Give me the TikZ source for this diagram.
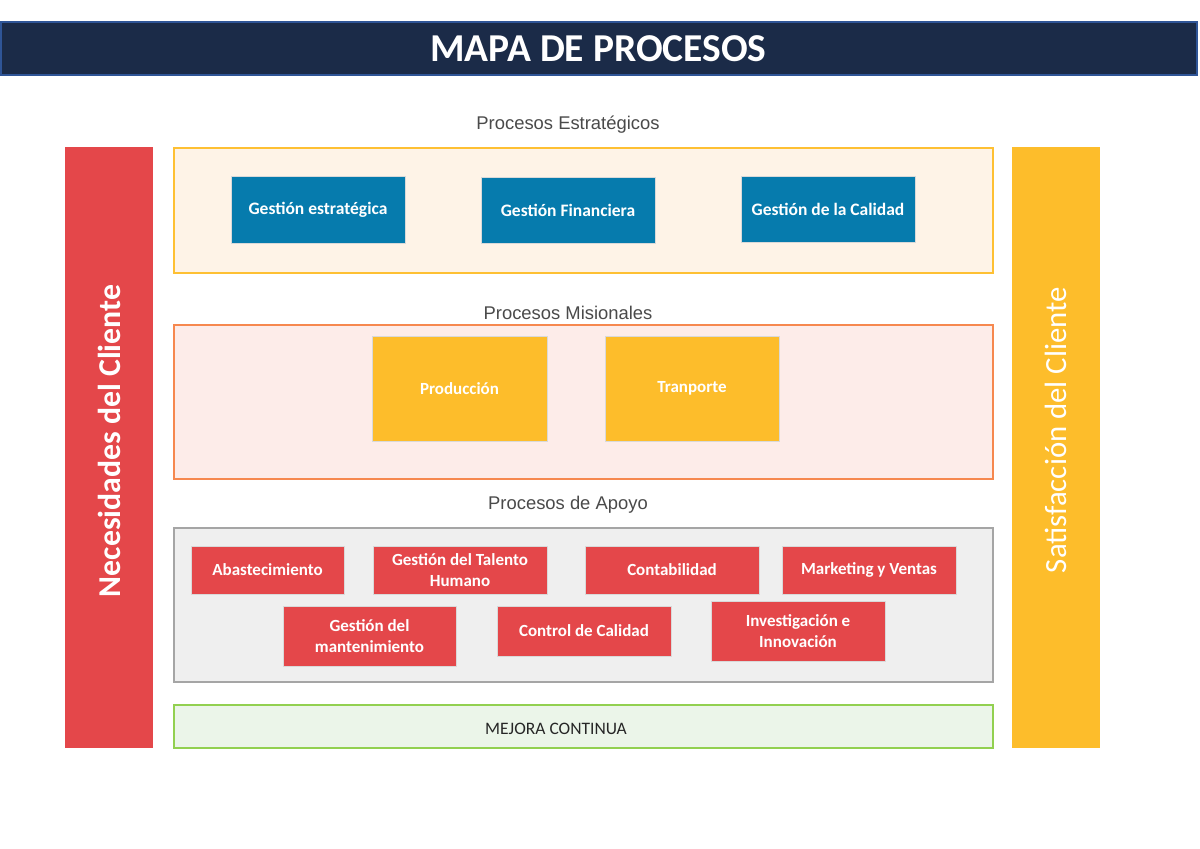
\documentclass[tikz,border=0pt]{standalone}
\usepackage{fontspec}
\setmainfont{Carlito}
\newfontfamily\arialf{Liberation Sans}
\definecolor{navy}{HTML}{1B2B48}
\definecolor{navyedge}{HTML}{2F5597}
\definecolor{bluebox}{HTML}{067BAD}
\definecolor{yelbox}{HTML}{FDBD2B}
\definecolor{redbox}{HTML}{E4474A}
\definecolor{stratfill}{HTML}{FEF3E7}
\definecolor{stratedge}{HTML}{FEC033}
\definecolor{misfill}{HTML}{FDECE9}
\definecolor{misedge}{HTML}{F6884F}
\definecolor{apofill}{HTML}{EFEFEF}
\definecolor{apoedge}{HTML}{A5A5A5}
\definecolor{mejfill}{HTML}{EBF5E9}
\definecolor{mejedge}{HTML}{92D050}
\definecolor{labelgray}{HTML}{4A4A4A}
\tikzset{
  container/.style={rectangle, line width=2pt, inner sep=0pt},
  procbox/.style={rectangle, draw=white!85!black, line width=0.5pt, text=white, align=center, inner sep=0pt, font=\bfseries\fontsize{17}{21}\selectfont},
  bluestyle/.style={procbox, fill=bluebox, font=\bfseries\fontsize{17.5}{21}\selectfont},
  yelstyle/.style={procbox, fill=yelbox},
  redstyle/.style={procbox, fill=redbox},
  grouplabel/.style={text=labelgray, font=\arialf\fontsize{18.4}{20}\selectfont},
  sidebar/.style={rectangle, inner sep=0pt, minimum width=88pt, minimum height=601pt},
}
\begin{document}
\begin{tikzpicture}[x=1pt,y=-1pt]
\useasboundingbox (0,0) rectangle (1200,849);
\fill[white] (0,0) rectangle (1200,849);
% title
\node[rectangle, fill=navy, draw=navyedge, line width=2pt, minimum width=1196pt, minimum height=53pt, inner sep=0pt, text=white, font=\bfseries\fontsize{39.5}{42}\selectfont] (title) at (598.5,48.5) {MAPA DE PROCESOS};
% side bars
\node[sidebar, fill=redbox] (left) at (109,447.5) {};
\node[rotate=90, text=white, font=\bfseries\fontsize{31.8}{34}\selectfont] (lefttext) at (109,441) {Necesidades del Cliente};
\node[sidebar, fill=yelbox] (right) at (1056,447.5) {};
\node[rotate=90, text=white, font=\fontsize{30.8}{33}\selectfont] (righttext) at (1056,430) {Satisfacción del Cliente};
% containers
\node[container, fill=stratfill, draw=stratedge, minimum width=819pt, minimum height=125pt] (strat) at (583.5,210.5) {};
\node[container, fill=misfill, draw=misedge, minimum width=819pt, minimum height=154pt] (mis) at (583.5,402) {};
\node[container, fill=apofill, draw=apoedge, minimum width=819pt, minimum height=154pt] (apo) at (583.5,605) {};
\node[container, fill=mejfill, draw=mejedge, minimum width=819pt, minimum height=43pt] (mej) at (583.5,726.5) {};
\node[text=black!85, font=\fontsize{17.5}{19}\selectfont] (mejtext) at (556,729) {MEJORA CONTINUA};
% group labels
\node[grouplabel] (lstrat) at (568,125) {Procesos Estratégicos};
\node[grouplabel] (lmis) at (568,313) {Procesos Misionales};
\node[grouplabel] (lapo) at (568,505) {Procesos de Apoyo};
% strategic
\node[bluestyle, minimum width=174pt, minimum height=67pt] (b1) at (318,209.5) {Gestión estratégica};
\node[bluestyle, minimum width=174pt, minimum height=66pt] (b2) at (568,210) {Gestión Financiera};
\node[bluestyle, minimum width=174pt, minimum height=66pt] (b3) at (828,209) {Gestión de la Calidad};
% misionales
\node[yelstyle, minimum width=175pt, minimum height=105pt] (y1) at (459.5,388.5) {Producción};
\node[yelstyle, minimum width=174pt, minimum height=105pt] (y2) at (692,388.5) {Tranporte};
% apoyo
\node[redstyle, minimum width=153pt, minimum height=48pt] (r1) at (267.5,570) {Abastecimiento};
\node[redstyle, minimum width=174pt, minimum height=48pt] (r2) at (460,570) {Gestión del Talento\\Humano};
\node[redstyle, minimum width=174pt, minimum height=48pt] (r3) at (672,570) {Contabilidad};
\node[redstyle, minimum width=174pt, minimum height=48pt] (r4) at (869,570) {Marketing y Ventas};
\node[redstyle, minimum width=173pt, minimum height=60pt] (r5) at (369.5,636) {Gestión del\\mantenimiento};
\node[redstyle, minimum width=174pt, minimum height=50pt] (r6) at (584,631) {Control de Calidad};
\node[redstyle, minimum width=174pt, minimum height=60pt] (r7) at (798,631) {Investigación e\\Innovación};
\end{tikzpicture}
\end{document}
